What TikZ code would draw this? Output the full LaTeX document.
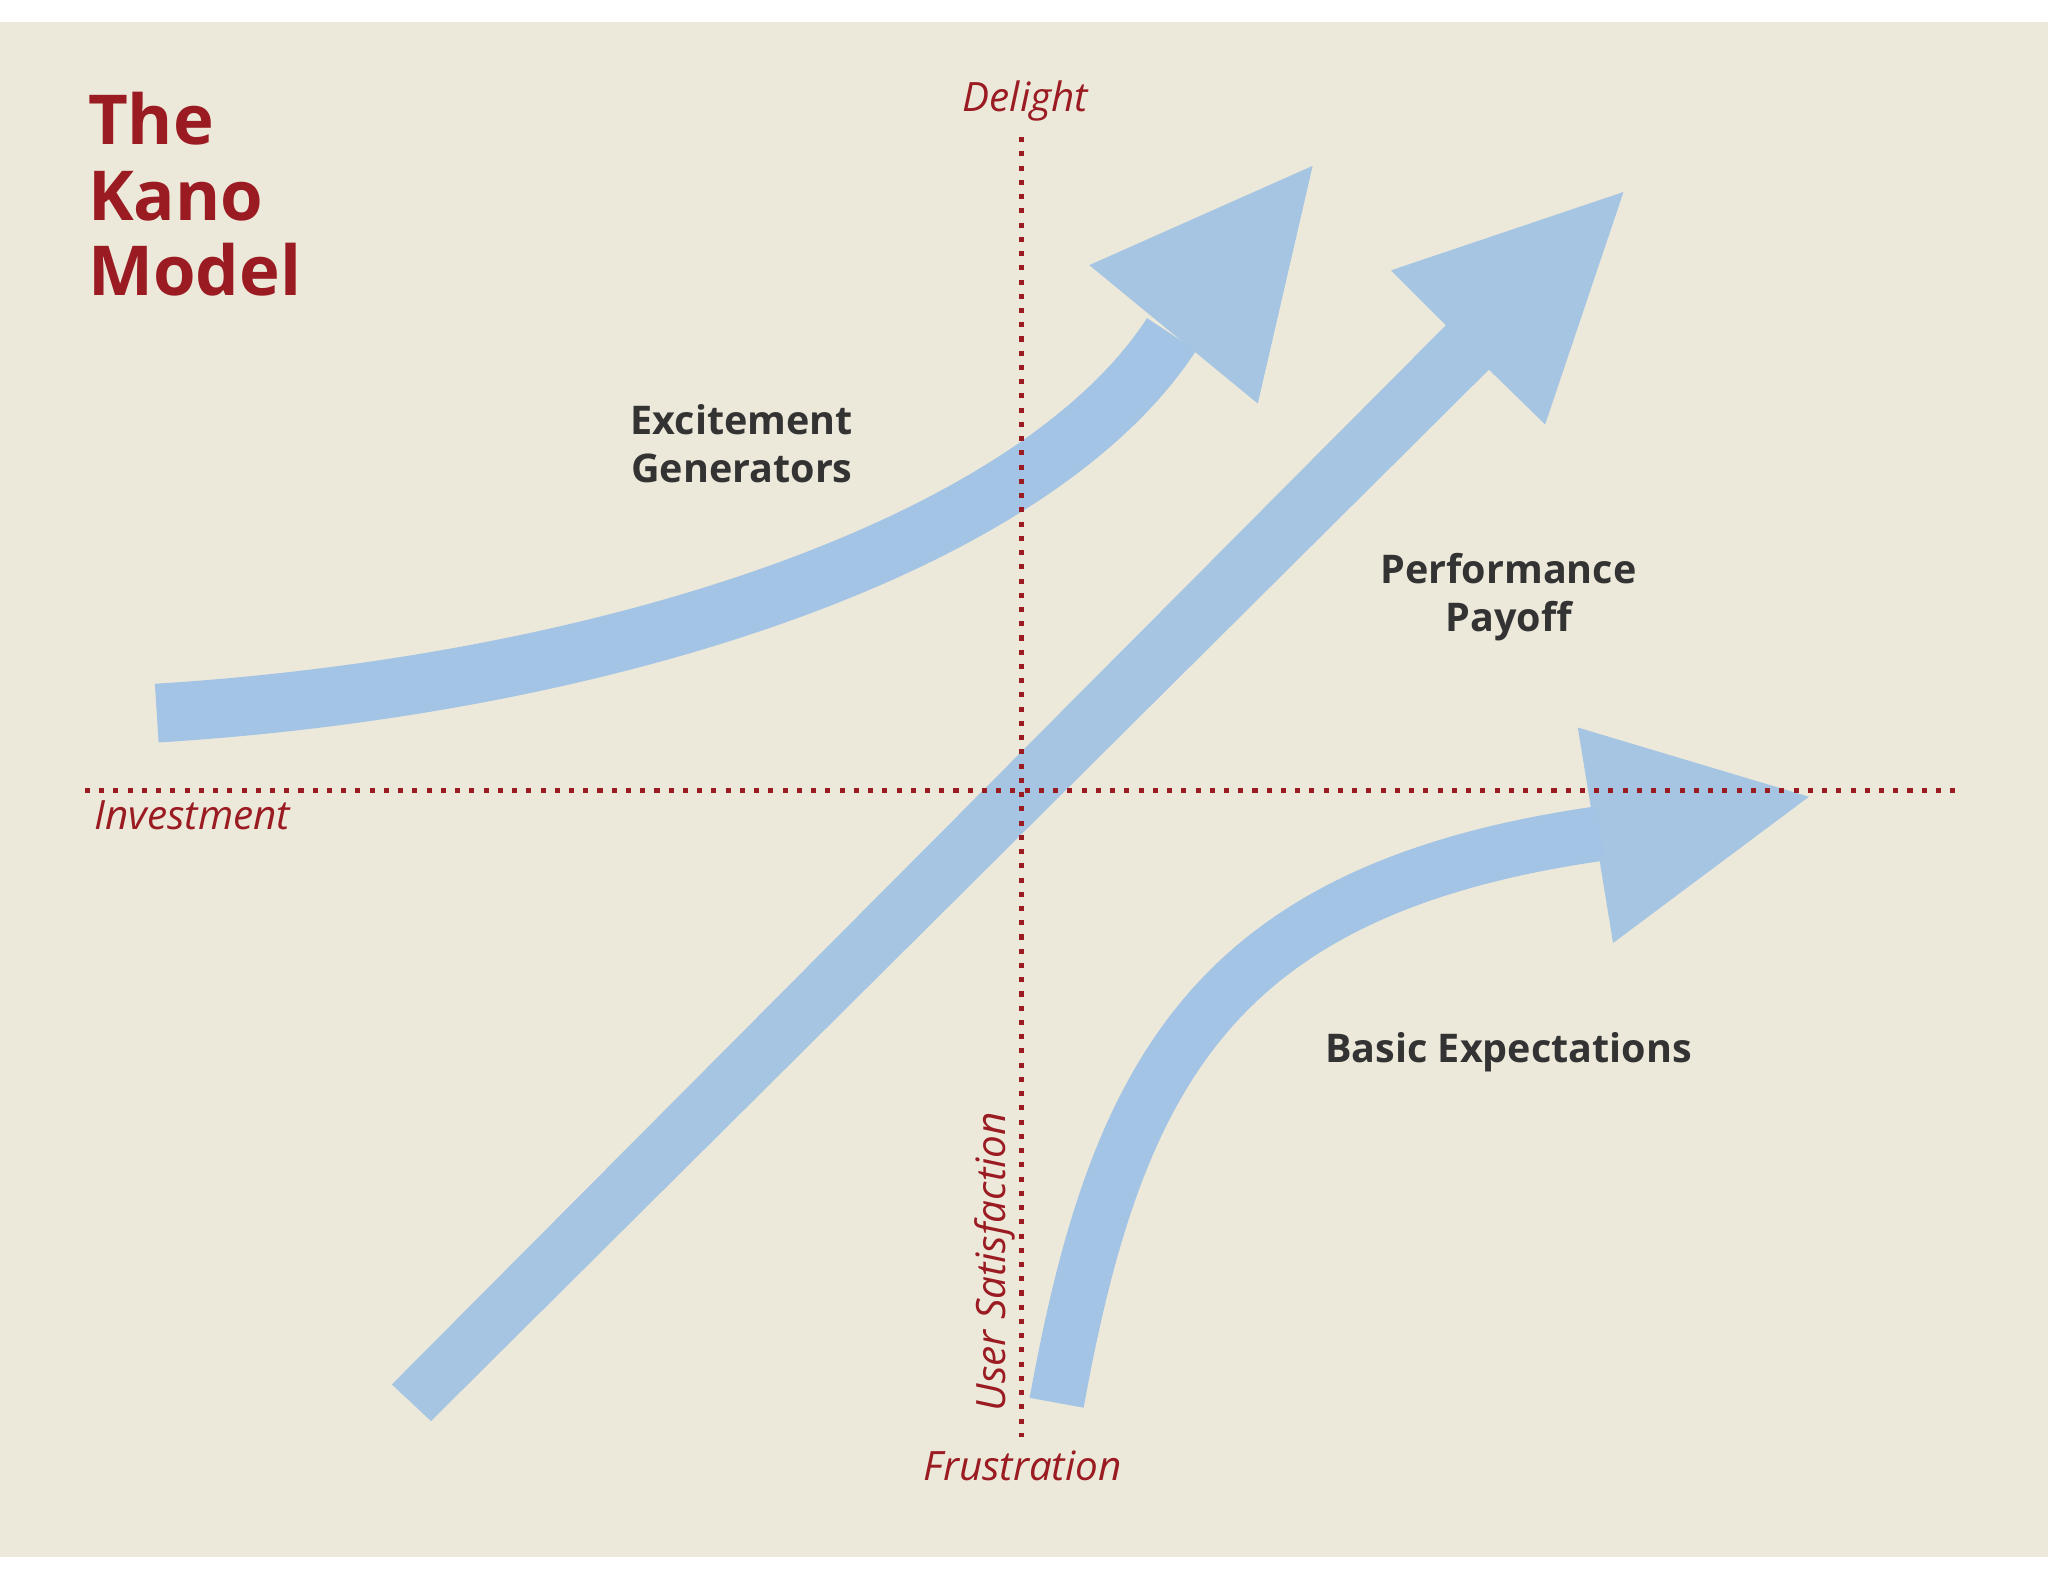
\documentclass[tikz,border=0pt]{standalone}
\usepackage{fontspec}
\setmainfont{Open Sans}
\begin{document}
\begin{tikzpicture}[x=0.01cm,y=-0.01cm,
  axis/.style={draw=kred,line width=1.1pt,dotted},
  arr/.style={fill=kblue,draw=none,opacity=0.95},
  lab/.style={font=\fontsize{8.6}{10.5}\selectfont\bfseries,text=kgray,align=center},
  red/.style={font=\fontsize{8.8}{10}\selectfont\itshape,text=kred}]
\definecolor{kbg}{HTML}{ECE9DA}
\definecolor{kred}{HTML}{9B1B22}
\definecolor{kblue}{HTML}{A3C4E4}
\definecolor{kgray}{HTML}{333333}
\useasboundingbox (0,0) rectangle (1568,1210);
\fill[kbg] (0,17) rectangle (1568,1192);
% arrows
\draw[kblue,line width=0.45cm] (120,546) .. controls (460,525) and (790,420) .. (897,256);
\fill[arr] (834,203) -- (1005,127) -- (963,309) -- cycle;
\fill[arr] (300,1060) -- (1107,249) -- (1065,207) -- (1243,147) -- (1183,325) -- (1140,283) -- (330,1088) -- cycle;
\draw[kblue,line width=0.42cm] (809,1074) .. controls (855,820) and (930,680) .. (1226,638);
\fill[arr] (1208,557) -- (1385,610) -- (1235,722) -- cycle;
% axes
\coordinate (xl) at (65,605); \coordinate (xr) at (1502,605);
\coordinate (yt) at (782,105); \coordinate (yb) at (782,1100);
\draw[axis] (xl) -- (xr);
\draw[axis] (yt) -- (yb);
% labels
\node[red] (dl) at (785,77) {Delight};
\node[red,anchor=west] (inv) at (60,624) {Investment};
\node[red] (fr) at (783,1122) {Frustration};
\node[red,rotate=90] (us) at (762,966) {User Satisfaction};
\node[lab] (eg) at (568,340) {Excitement\\Generators};
\node[lab] (pp) at (1155,457) {Performance\\Payoff};
\node[lab] (be) at (1155,806) {Basic Expectations};
\node[anchor=north west,align=left,text=kred,font=\fontsize{15}{16.5}\selectfont\bfseries] (t) at (55,58) {The\\Kano\\Model};
\end{tikzpicture}
\end{document}
